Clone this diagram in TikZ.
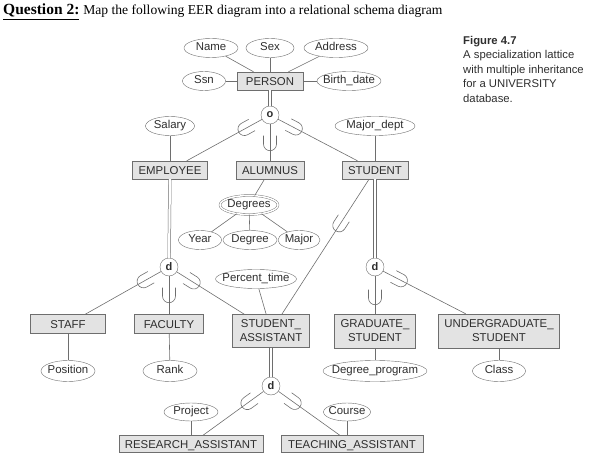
\documentclass[tikz,border=0pt]{standalone}
\usepackage{fontspec}
\setmainfont{Liberation Serif}
\newfontfamily\erfont{Liberation Sans}
\usetikzlibrary{shapes.geometric,decorations.markings}
\definecolor{entfill}{HTML}{E3E3E3}
\definecolor{ergray}{HTML}{6E6E6E}
\definecolor{ertext}{HTML}{2E2E2E}
\tikzset{
    entbase/.style={draw=ergray, fill=entfill, inner sep=0pt, align=center, text=ertext, font=\erfont\fontsize{11.4}{14}\selectfont},
    ent/.style={entbase, minimum height=18pt, text height=8.2pt, text depth=0pt},
    attr/.style={draw=ergray, fill=white, ellipse, inner sep=0pt, minimum height=19pt, text=ertext, font=\erfont\fontsize{11.4}{14}\selectfont, text height=8.2pt, text depth=2.4pt, execute at begin node={\hbox to 0pt\bgroup\hss}, execute at end node={\hss\egroup}},
    spec/.style={draw=ergray, fill=white, circle, inner sep=0pt, minimum size=18pt, text=ertext, font=\erfont\bfseries\fontsize{11}{13}\selectfont},
    lnk/.style={draw=ergray, line width=0.6pt},
    dbl/.style={draw=ergray, line width=0.5pt, double=white, double distance=2.2pt},
    sub/.style={postaction={decorate}, decoration={markings, mark=at position #1 with {\draw[ergray, line width=0.6pt] (-8.5pt,6.5pt) -- (0pt,6.5pt) arc (90:-90:6.5pt) -- (-8.5pt,-6.5pt);}}},
    sub/.default=20pt
}
\begin{document}
\begin{tikzpicture}[x=1pt, y=1pt]
    \useasboundingbox (0,0) rectangle (604,-470);
    \node (title) at (3,-15) [anchor=base west, inner sep=0pt] {\fontsize{15.5}{18}\selectfont\textbf{\underline{Question 2:}} \fontsize{13.6}{16}\selectfont Map the following EER diagram into a relational schema diagram};
    \node (cap) at (463,-36) [anchor=north west, inner sep=0pt, align=left, text=ertext, font=\erfont\fontsize{11.3}{14.5}\selectfont] {{\bfseries Figure 4.7}\\A specialization lattice\\with multiple inheritance\\for a UNIVERSITY\\database.};

    \node (person) at (270,-81) [ent, minimum width=66pt] {PERSON};
    \node (name) at (211,-48) [attr, minimum width=54pt] {Name};
    \node (sex) at (270,-48) [attr, minimum width=48pt] {Sex};
    \node (addr) at (336,-48) [attr, minimum width=64pt] {Address};
    \node (ssn) at (204,-81) [attr, minimum width=43pt] {Ssn};
    \node (bdate) at (349,-81) [attr, minimum width=64pt] {Birth\_date};
    \node (ovl) at (270,-115) [spec] {o};

    \node (emp) at (170,-170) [ent, minimum width=75pt] {EMPLOYEE};
    \node (alum) at (270,-170) [ent, minimum width=68pt] {ALUMNUS};
    \node (stud) at (375,-170) [ent, minimum width=66pt] {STUDENT};
    \node (salary) at (170,-126) [attr, minimum width=49pt] {Salary};
    \node (majd) at (375,-126) [attr, minimum width=80pt] {Major\_dept};

    \node (degs) at (249,-205) [attr, double=white, double distance=1.5pt, minimum width=58pt, minimum height=19pt] {Degrees};
    \node (year) at (200,-240) [attr, minimum width=43pt] {Year};
    \node (degree) at (250,-240) [attr, minimum width=54pt] {Degree};
    \node (major) at (299,-240) [attr, minimum width=42pt] {Major};

    \node (dj1) at (169,-267) [spec] {d};
    \node (dj2) at (375,-267) [spec] {d};
    \node (ptime) at (256,-279) [attr, minimum width=81pt] {Percent\_time};

    \node (staff) at (68,-324) [ent, minimum width=75pt, minimum height=19pt] {STAFF};
    \node (fac) at (169,-324) [ent, minimum width=69pt, minimum height=19pt] {FACULTY};
    \node (sa) at (271,-331) [entbase, minimum width=77pt, minimum height=33pt] {STUDENT\_\\ASSISTANT};
    \node (grad) at (375,-331) [entbase, minimum width=81pt, minimum height=34pt] {GRADUATE\_\\STUDENT};
    \node (ugrad) at (499,-331) [entbase, minimum width=121pt, minimum height=34pt] {UNDERGRADUATE\_\\STUDENT};

    \node (pos) at (68,-371) [attr, minimum width=54pt, minimum height=21pt] {Position};
    \node (rank) at (170,-371) [attr, minimum width=54pt, minimum height=21pt] {Rank};
    \node (dprog) at (375,-371) [attr, minimum width=104pt, minimum height=21pt] {Degree\_program};
    \node (class) at (499,-371) [attr, minimum width=53pt, minimum height=21pt] {Class};

    \node (dj3) at (271,-386) [spec] {d};
    \node (proj) at (191,-412) [attr, minimum width=54pt, minimum height=18pt] {Project};
    \node (course) at (347,-412) [attr, minimum width=47pt, minimum height=18pt] {Course};
    \node (ra) at (191,-444) [ent, minimum width=144pt, minimum height=17pt] {RESEARCH\_ASSISTANT};
    \node (ta) at (352,-444) [ent, minimum width=142pt, minimum height=17pt] {TEACHING\_ASSISTANT};

    \draw[lnk] (name) -- (person);
    \draw[lnk] (sex) -- (person);
    \draw[lnk] (addr) -- (person);
    \draw[lnk] (ssn) -- (person);
    \draw[lnk] (person) -- (bdate);
    \draw[dbl] (person) -- (ovl);
    \draw[lnk, sub] (ovl) -- (emp);
    \draw[lnk, sub] (ovl) -- (alum);
    \draw[lnk, sub] (ovl) -- (stud);
    \draw[lnk] (salary) -- (emp);
    \draw[lnk] (majd) -- (stud);

    \draw[lnk] (alum) -- (degs);
    \draw[lnk] (degs) -- (year);
    \draw[lnk] (degs) -- (degree);
    \draw[lnk] (degs) -- (major);

    \draw[dbl] (emp) -- (dj1);
    \draw[lnk, sub] (dj1) -- (staff);
    \draw[lnk, sub] (dj1) -- (fac);
    \draw[lnk, sub] (dj1) -- (sa);
    \draw[lnk, sub=55pt] (stud) -- (sa);
    \draw[lnk] (ptime) -- (sa);

    \draw[dbl] (stud) -- (dj2);
    \draw[lnk, sub=22pt] (dj2) -- (grad);
    \draw[lnk, sub] (dj2) -- (ugrad);

    \draw[lnk] (staff) -- (pos);
    \draw[lnk] (fac) -- (rank);
    \draw[lnk] (grad) -- (dprog);
    \draw[lnk] (ugrad) -- (class);

    \draw[dbl] (sa) -- (dj3);
    \draw[lnk, sub] (dj3) -- (ra);
    \draw[lnk, sub] (dj3) -- (ta);
    \draw[lnk] (proj) -- (ra);
    \draw[lnk] (course.south) -- (course.south |- ta.north);
\end{tikzpicture}
\end{document}
